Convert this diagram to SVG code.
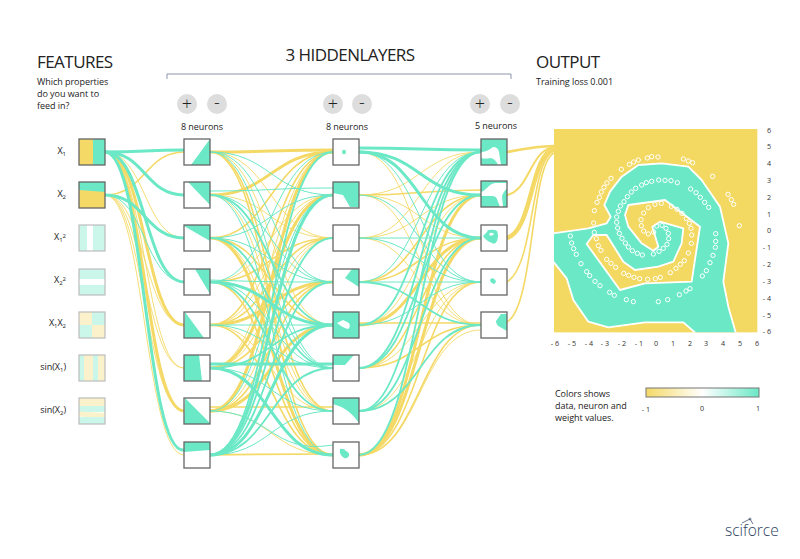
<svg xmlns="http://www.w3.org/2000/svg" width="800" height="559" viewBox="0 0 800 559">
<style>
text{font-family:"Open Sans","Noto Sans","Liberation Sans",sans-serif;fill:#222}
.h{font-size:17px;letter-spacing:-.55px}
.s{font-size:9px;letter-spacing:-.05px}
.a{font-size:7.2px;fill:#333}
.r{text-anchor:end}
.m{text-anchor:middle}
.sub{font-size:6px}
.pm{font-size:18px;font-weight:300;text-anchor:middle}
#connectors path{fill:none}
.y1{stroke:#f4d966;stroke-width:.9}
.y2{stroke:#f4d966;stroke-width:1.6}
.y3{stroke:#f4d966;stroke-width:3}
.g1{stroke:#6be8c6;stroke-width:1}
.g2{stroke:#6be8c6;stroke-width:1.8}
.g3{stroke:#6be8c6;stroke-width:3}
.box{fill:none;stroke:#666;stroke-width:1.3}
.bg{fill:#fff}
.t{fill:#6be8c6}
.w{fill:#fff}
.ft{fill:#f4d966}
.pt{fill:#cbf6ea}
.py{fill:#fbf2cb}
.fb{fill:none;stroke:#bdbdbd;stroke-width:1.2}
.btn{fill:#dddddd}
</style>
<defs>
<linearGradient id="legend"><stop offset="0" stop-color="#f4d966"/><stop offset=".5" stop-color="#fff"/><stop offset="1" stop-color="#6be8c6"/></linearGradient>
<clipPath id="plot"><rect x="27" y="27" width="610" height="610"/></clipPath>
</defs>
<rect width="800" height="559" fill="#fff"/>

<text class="h" x="37" y="68">FEATURES</text>
<text class="s" x="37" y="85">Which properties</text>
<text class="s" x="37" y="97">do you want to</text>
<text class="s" x="37" y="109">feed in?</text>
<text class="h m" x="350" y="61">3 HIDDENLAYERS</text>
<path d="M167 79V74H511V79" fill="none" stroke="#8a94a8" stroke-width="1"/>
<text class="h" x="536" y="68">OUTPUT</text>
<text class="s" x="536" y="85">Training loss 0.001</text>

<g id="buttons">
<circle class="btn" cx="187" cy="104" r="10"/><circle class="btn" cx="217" cy="104" r="10"/>
<circle class="btn" cx="333" cy="104" r="10"/><circle class="btn" cx="362" cy="104" r="10"/>
<circle class="btn" cx="480" cy="104" r="10"/><circle class="btn" cx="510" cy="104" r="10"/>
<text class="pm" x="187" y="110">+</text><text class="pm" x="217" y="109">-</text>
<text class="pm" x="333" y="110">+</text><text class="pm" x="362" y="109">-</text>
<text class="pm" x="480" y="110">+</text><text class="pm" x="510" y="109">-</text>
</g>
<text class="s m" x="202" y="129.500">8 neurons</text>
<text class="s m" x="347" y="129.500">8 neurons</text>
<text class="s m" x="496" y="129">5 neurons</text>

<g id="connectors">
<path class="y1" d="M105 152C145 152 145 238 184 238"/>
<path class="y3" d="M105 152C145 152 145 325 184 325"/>
<path class="y1" d="M105 152C145 152 145 368 184 368"/>
<path class="y3" d="M105 152C145 152 145 411 184 411"/>
<path class="y2" d="M105 195C145 195 145 152 184 152"/>
<path class="y1" d="M105 195C145 195 145 325 184 325"/>
<path class="y1" d="M105 195C145 195 145 368 184 368"/>
<path class="y1" d="M105 195C145 195 145 411 184 411"/>
<path class="y1" d="M105 195C145 195 145 455 184 455"/>
<path class="g3" d="M105 152C145 152 145 150 184 150"/>
<path class="g3" d="M105 152C145 152 145 195 184 195"/>
<path class="g3" d="M105 152C145 152 145 282 184 282"/>
<path class="g3" d="M105 152C145 152 145 455 184 450"/>
<path class="g3" d="M105 195C145 195 145 238 184 238"/>
<path class="g1" d="M105 195C145 195 145 282 184 282"/>

<path class="y3" d="M210 152C271 152 271 150 333 150"/>
<path class="y1" d="M210 152C271 152 271 238 333 238"/>
<path class="y1" d="M210 152C271 152 271 325 333 325"/>
<path class="y2" d="M210 152C271 152 271 411 333 411"/>
<path class="y2" d="M210 152C271 152 271 455 333 455"/>
<path class="y3" d="M210 195C271 195 271 152 333 152"/>
<path class="y1" d="M210 195C271 195 271 238 333 238"/>
<path class="y1" d="M210 195C271 195 271 411 333 411"/>
<path class="y2" d="M210 238C271 238 271 152 333 152"/>
<path class="y2" d="M210 238C271 238 271 325 333 325"/>
<path class="y1" d="M210 238C271 238 271 411 333 411"/>
<path class="y3" d="M210 238C271 238 271 455 333 455"/>
<path class="y1" d="M210 282C271 282 271 195 333 195"/>
<path class="y2" d="M210 282C271 282 271 238 333 238"/>
<path class="y2" d="M210 282C271 282 271 455 333 455"/>
<path class="y2" d="M210 325C271 325 271 152 333 152"/>
<path class="y1" d="M210 325C271 325 271 195 333 195"/>
<path class="y2" d="M210 325C271 325 271 238 333 238"/>
<path class="y3" d="M210 325C271 325 271 282 333 282"/>
<path class="y1" d="M210 325C271 325 271 411 333 411"/>
<path class="y2" d="M210 325C271 325 271 455 333 455"/>
<path class="y1" d="M210 368C271 368 271 152 333 152"/>
<path class="y3" d="M210 368C271 368 271 195 333 195"/>
<path class="y1" d="M210 368C271 368 271 238 333 238"/>
<path class="y2" d="M210 368C271 368 271 282 333 282"/>
<path class="y3" d="M210 411C271 411 271 152 333 152"/>
<path class="y1" d="M210 411C271 411 271 238 333 238"/>
<path class="y2" d="M210 411C271 411 271 282 333 282"/>
<path class="y3" d="M210 411C271 411 271 325 333 325"/>
<path class="y2" d="M210 407C271 407 271 407 333 407"/>
<path class="y1" d="M210 411C271 411 271 455 333 455"/>
<path class="y2" d="M210 455C271 454 271 454 333 454"/>

<path class="g1" d="M210 152C271 152 271 195 333 195"/>
<path class="g1" d="M210 152C271 152 271 282 333 282"/>
<path class="g1" d="M210 152C271 152 271 368 333 368"/>
<path class="g1" d="M210 191C271 191 271 188 333 188"/>
<path class="g1" d="M210 195C271 195 271 282 333 282"/>
<path class="g2" d="M210 195C271 195 271 325 333 325"/>
<path class="g1" d="M210 195C271 195 271 368 333 368"/>
<path class="g1" d="M210 195C271 195 271 455 333 455"/>
<path class="g1" d="M210 238C271 238 271 195 333 195"/>
<path class="g1" d="M210 238C271 238 271 282 333 282"/>
<path class="g2" d="M210 238C271 238 271 368 333 368"/>
<path class="g1" d="M210 282C271 282 271 152 333 152"/>
<path class="g1" d="M210 280C271 282 271 282 333 282"/>
<path class="g3" d="M210 282C271 282 271 325 333 325"/>
<path class="g1" d="M210 282C271 282 271 368 333 368"/>
<path class="g2" d="M210 282C271 282 271 411 333 411"/>
<path class="g1" d="M210 325C271 325 271 325 333 325"/>
<path class="g1" d="M210 325C271 325 271 368 333 368"/>
<path class="g2" d="M210 368C271 368 271 325 333 325"/>
<path class="g3" d="M210 364C271 364 271 364 333 364"/>
<path class="g1" d="M210 368C271 368 271 411 333 411"/>
<path class="g3" d="M210 368C271 368 271 455 333 455"/>
<path class="g1" d="M210 411C271 411 271 195 333 195"/>
<path class="g1" d="M210 411C271 411 271 455 333 445"/>
<path class="g2" d="M210 455C271 455 271 152 333 152"/>
<path class="g3" d="M210 455C271 455 271 195 333 195"/>
<path class="g2" d="M210 455C271 455 271 238 333 238"/>
<path class="g2" d="M210 455C271 455 271 282 333 282"/>
<path class="g3" d="M210 455C271 455 271 325 333 325"/>
<path class="g2" d="M210 455C271 455 271 368 333 368"/>
<path class="g1" d="M210 455C271 455 271 411 333 411"/>

<path class="y1" d="M359 152C420 152 420 325 481 325"/>
<path class="y1" d="M359 195C420 195 420 152 481 152"/>
<path class="y2" d="M359 195C420 195 420 190 481 190"/>
<path class="y1" d="M359 195C420 195 420 238 481 238"/>
<path class="y1" d="M359 195C420 195 420 325 481 325"/>
<path class="y1" d="M359 238C420 238 420 152 481 152"/>
<path class="y1" d="M359 238C420 238 420 195 481 195"/>
<path class="y1" d="M359 238C420 238 420 325 481 325"/>
<path class="y2" d="M359 282C420 282 420 195 481 195"/>
<path class="y2" d="M359 282C420 282 420 238 481 238"/>
<path class="y3" d="M359 325C420 325 420 238 481 238"/>
<path class="y1" d="M359 325C420 325 420 195 481 195"/>
<path class="y2" d="M359 323C420 323 420 323 481 323"/>
<path class="y2" d="M359 368C420 368 420 238 481 238"/>
<path class="y1" d="M359 368C420 368 420 282 481 282"/>
<path class="y2" d="M359 368C420 368 420 325 481 325"/>
<path class="y1" d="M359 411C420 411 420 282 481 282"/>
<path class="y1" d="M359 411C420 411 420 325 481 325"/>
<path class="y3" d="M359 455C420 455 420 195 481 195"/>
<path class="y3" d="M359 455C420 455 420 238 481 238"/>
<path class="y2" d="M359 455C420 455 420 282 481 282"/>
<path class="y2" d="M359 455C420 455 420 325 481 325"/>
<path class="y1" d="M359 455C420 455 420 330 481 330"/>

<path class="g3" d="M359 148C420 148 420 150 481 150"/>
<path class="g3" d="M359 152C420 152 420 195 481 195"/>
<path class="g3" d="M359 152C420 152 420 238 481 238"/>
<path class="g1" d="M359 152C420 152 420 282 481 282"/>
<path class="g1" d="M359 195C420 195 420 282 481 282"/>
<path class="g1" d="M359 238C420 238 420 238 481 238"/>
<path class="g1" d="M359 238C420 238 420 282 481 282"/>
<path class="g1" d="M359 282C420 282 420 152 481 152"/>
<path class="g1" d="M359 282C420 282 420 282 481 282"/>
<path class="g2" d="M359 282C420 282 420 325 481 325"/>
<path class="g2" d="M359 325C420 325 420 152 481 152"/>
<path class="g1" d="M359 325C420 325 420 282 481 282"/>
<path class="g2" d="M359 368C420 368 420 152 481 152"/>
<path class="g2" d="M359 368C420 368 420 195 481 195"/>
<path class="g2" d="M359 411C420 411 420 152 481 152"/>
<path class="g2" d="M359 411C420 411 420 238 481 238"/>
<path class="g2" d="M359 411C420 411 420 325 481 325"/>
<path class="g2" d="M359 455C420 455 420 152 481 152"/>

<path class="y2" style="stroke-width:2.600" d="M507 152C530 148 530 147 554 146"/>
<path class="y2" style="stroke-width:2" d="M507 195C530 190 530 150 554 147"/>
<path class="y3" style="stroke-width:4.500" d="M507 238C533 230 530 155 554 149"/>
<path class="y2" d="M507 282C535 265 530 160 554 151"/>
<path class="y2" d="M507 322C535 305 530 165 554 153"/>
</g>

<g id="feature-x1"><text class="s r" x="66" y="154">X<tspan class="sub" dy="2">1</tspan></text><rect class="ft" x="79" y="139" width="14" height="26"/><rect class="t" x="93" y="139" width="12" height="26"/><rect class="box" x="79" y="139" width="26" height="26"/></g>
<g id="feature-x2"><text class="s r" x="66" y="197">X<tspan class="sub" dy="2">2</tspan></text><rect class="ft" x="79" y="182" width="26" height="26"/><path class="t" d="M79 182H105V192L79 190Z"/><rect class="box" x="79" y="182" width="26" height="26"/></g>
<g id="feature-x1sq"><text class="s r" x="66" y="240">X<tspan class="sub" dy="2">1</tspan><tspan class="sub" dy="-4">2</tspan></text><rect class="pt" x="79" y="225" width="26" height="26"/><rect class="w" x="87" y="225" width="6" height="26"/><rect class="fb" x="79" y="225" width="26" height="26"/></g>
<g id="feature-x2sq"><text class="s r" x="66" y="283">X<tspan class="sub" dy="2">2</tspan><tspan class="sub" dy="-4">2</tspan></text><rect class="pt" x="79" y="269" width="26" height="26"/><rect class="w" x="79" y="279" width="26" height="6"/><rect class="fb" x="79" y="269" width="26" height="26"/></g>
<g id="feature-x1x2"><text class="s r" x="66" y="326">X<tspan class="sub" dy="2">1</tspan><tspan dy="-2">X</tspan><tspan class="sub" dy="2">2</tspan></text><rect class="py" x="79" y="312" width="13" height="13"/><rect class="pt" x="92" y="312" width="13" height="13"/><rect class="pt" x="79" y="325" width="13" height="13"/><rect class="py" x="92" y="325" width="13" height="13"/><rect class="fb" x="79" y="312" width="26" height="26"/></g>
<g id="feature-sinx1"><text class="s r" x="66" y="370">sin(X<tspan class="sub" dy="2">1</tspan><tspan dy="-2">)</tspan></text><rect class="pt" x="79" y="355" width="5" height="26"/><rect class="py" x="84" y="355" width="9" height="26"/><rect class="pt" x="93" y="355" width="5" height="26"/><rect class="py" x="98" y="355" width="7" height="26"/><rect class="fb" x="79" y="355" width="26" height="26"/></g>
<g id="feature-sinx2"><text class="s r" x="66" y="413">sin(X<tspan class="sub" dy="2">2</tspan><tspan dy="-2">)</tspan></text><rect class="py" x="79" y="398" width="26" height="8"/><rect class="pt" x="79" y="406" width="26" height="6"/><path class="py" d="M79 411.500L105 413V418L79 416.500Z"/><rect class="pt" x="79" y="417" width="26" height="7"/><rect class="fb" x="79" y="398" width="26" height="26"/></g>

<g id="n1-1" transform="translate(184 139)"><rect class="bg" width="26" height="26"/><polygon class="t" points="26,0 26,26 7,26"/><rect class="box" width="26" height="26"/></g>
<g id="n1-2" transform="translate(184 182)"><rect class="bg" width="26" height="26"/><polygon class="t" points="4,0 26,0 26,23"/><rect class="box" width="26" height="26"/></g>
<g id="n1-3" transform="translate(184 225)"><rect class="bg" width="26" height="26"/><polygon class="t" points="0,0 26,0 26,16 0,1"/><rect class="box" width="26" height="26"/></g>
<g id="n1-4" transform="translate(184 269)"><rect class="bg" width="26" height="26"/><polygon class="t" points="11,0 26,0 26,25"/><rect class="box" width="26" height="26"/></g>
<g id="n1-5" transform="translate(184 312)"><rect class="bg" width="26" height="26"/><polygon class="t" points="1,0 20,26 0,26"/><rect class="box" width="26" height="26"/></g>
<g id="n1-6" transform="translate(184 355)"><rect class="bg" width="26" height="26"/><polygon class="t" points="0,0 15,0 18,26 0,26"/><rect class="box" width="26" height="26"/></g>
<g id="n1-7" transform="translate(184 398)"><rect class="bg" width="26" height="26"/><polygon class="t" points="1,0 26,25 26,26 0,26"/><rect class="box" width="26" height="26"/></g>
<g id="n1-8" transform="translate(184 442)"><rect class="bg" width="26" height="26"/><polygon class="t" points="0,0 26,0 26,8 0,10"/><rect class="box" width="26" height="26"/></g>

<g id="n2-1" transform="translate(333 139)"><rect class="bg" width="26" height="26"/><ellipse class="t" cx="11" cy="13" rx="2" ry="2.300"/><rect class="box" width="26" height="26"/></g>
<g id="n2-2" transform="translate(333 182)"><rect class="bg" width="26" height="26"/><polygon class="t" points="0,0 26,0 26,25 17,25 10,13 0,11"/><rect class="box" width="26" height="26"/></g>
<g id="n2-3" transform="translate(333 225)"><rect class="bg" width="26" height="26"/><rect class="box" width="26" height="26"/></g>
<g id="n2-4" transform="translate(333 269)"><rect class="bg" width="26" height="26"/><polygon class="t" points="19,0 26,0 26,18 12,9"/><rect class="box" width="26" height="26"/></g>
<g id="n2-5" transform="translate(333 312)"><rect class="t" width="26" height="26"/><path class="w" d="M10 8L16 11Q18 15 15 17Q10 16 4 11Z"/><rect class="box" width="26" height="26"/></g>
<g id="n2-6" transform="translate(333 355)"><rect class="bg" width="26" height="26"/><polygon class="t" points="0,0 21,0 12,10 0,10"/><rect class="box" width="26" height="26"/></g>
<g id="n2-7" transform="translate(333 398)"><rect class="bg" width="26" height="26"/><path class="t" d="M0 6Q16 10 26 25V0H0Z"/><rect class="box" width="26" height="26"/></g>
<g id="n2-8" transform="translate(333 442)"><rect class="bg" width="26" height="26"/><path class="t" d="M7 7Q11 6 13 9Q17 11 16 14Q14 17 11 16Q6 13 7 7Z"/><rect class="box" width="26" height="26"/></g>

<g id="n3-1" transform="translate(481 139)"><rect class="t" width="26" height="26"/><path class="w" d="M0 13Q6 13 12 8Q17 8 18 13L20 26H17Q14 19 9 19Q4 20 0 19Z"/><rect class="box" width="26" height="26"/></g>
<g id="n3-2" transform="translate(481 181)"><rect class="t" width="26" height="26"/><path class="w" d="M26 2H14Q9 3 6 7Q3 10 0 11V15H11Q15 15 16 18L19 26H22L21 15Q23 10 26 7Z"/><rect class="box" width="26" height="26"/></g>
<g id="n3-3" transform="translate(481 225)"><rect class="bg" width="26" height="26"/><path class="t" d="M2 11L6 7L7 5Q14 4 16 6Q18 10 16 16Q14 20 11 18Q5 16 2 11Z"/><path class="w" d="M8 10Q11 12 13 9Q11 7 9 8Z"/><rect class="box" width="26" height="26"/></g>
<g id="n3-4" transform="translate(481 269)"><rect class="bg" width="26" height="26"/><ellipse class="t" cx="12" cy="12" rx="3" ry="2.300" transform="rotate(40 12 12)"/><rect class="box" width="26" height="26"/></g>
<g id="n3-5" transform="translate(481 312)"><rect class="bg" width="26" height="26"/><path class="t" d="M26 2H20L15 9Q15 13 19 15L26 19Z"/><rect class="box" width="26" height="26"/></g>

<g id="output" transform="translate(545 120) scale(.33333)">
<rect x="27" y="27" width="610" height="610" fill="#f3d862"/>
<g clip-path="url(#plot)">
<path fill="#6be8c6" fill-rule="evenodd" stroke="#fff" stroke-width="5.500" stroke-linejoin="round" d="M5 343L130 325L185 310L197 290L178 255L195 215L230 170L280 135L350 130L430 140L470 180L525 260L550 370L535 485L550 560L577 655H470L415 607H300L190 622L130 605L85 540L65 475L5 400ZM125 372L145 345H185L235 425L270 450L340 440L385 425L410 370L415 325L345 305L322 320L340 380L325 392L290 370L250 320L240 285L250 255L360 240L465 320L440 485L300 490L225 510Z"/>
</g>
<g fill="none" stroke="#fff" stroke-width="3">
<circle cx="229" cy="148" r="6.500"/><circle cx="253" cy="133" r="6.500"/><circle cx="266" cy="126" r="6.500"/><circle cx="280" cy="120" r="6.500"/><circle cx="307" cy="114" r="6.500"/><circle cx="320" cy="110" r="6.500"/><circle cx="339" cy="111" r="6.500"/><circle cx="415" cy="117" r="6.500"/><circle cx="430" cy="123" r="6.500"/><circle cx="443" cy="128" r="6.500"/><circle cx="503" cy="169" r="6.500"/><circle cx="549" cy="223" r="6.500"/><circle cx="559" cy="239" r="6.500"/><circle cx="566" cy="253" r="6.500"/><circle cx="583" cy="317" r="6.500"/>
<circle cx="198" cy="175" r="6.500"/><circle cx="186" cy="189" r="6.500"/><circle cx="177" cy="202" r="6.500"/><circle cx="169" cy="216" r="6.500"/><circle cx="163" cy="232" r="6.500"/><circle cx="156" cy="247" r="6.500"/><circle cx="148" cy="272" r="6.500"/><circle cx="146" cy="309" r="6.500"/><circle cx="148" cy="337" r="6.500"/><circle cx="154" cy="356" r="6.500"/><circle cx="160" cy="377" r="6.500"/><circle cx="168" cy="391" r="6.500"/><circle cx="185" cy="418" r="6.500"/><circle cx="198" cy="430" r="6.500"/><circle cx="212" cy="442" r="6.500"/><circle cx="236" cy="460" r="6.500"/><circle cx="251" cy="466" r="6.500"/><circle cx="267" cy="472" r="6.500"/><circle cx="284" cy="476" r="6.500"/><circle cx="308" cy="478" r="6.500"/><circle cx="331" cy="476" r="6.500"/><circle cx="346" cy="472" r="6.500"/><circle cx="376" cy="458" r="6.500"/><circle cx="393" cy="445" r="6.500"/><circle cx="406" cy="433" r="6.500"/><circle cx="418" cy="422" r="6.500"/><circle cx="430" cy="399" r="6.500"/><circle cx="439" cy="370" r="6.500"/><circle cx="440" cy="345" r="6.500"/><circle cx="438" cy="325" r="6.500"/><circle cx="433" cy="310" r="6.500"/><circle cx="424" cy="296" r="6.500"/><circle cx="411" cy="280" r="6.500"/><circle cx="396" cy="268" r="6.500"/><circle cx="379" cy="259" r="6.500"/><circle cx="349" cy="250" r="6.500"/><circle cx="330" cy="253" r="6.500"/><circle cx="310" cy="263" r="6.500"/><circle cx="296" cy="279" r="6.500"/><circle cx="288" cy="299" r="6.500"/><circle cx="289" cy="317" r="6.500"/><circle cx="296" cy="333" r="6.500"/><circle cx="310" cy="342" r="6.500"/><circle cx="326" cy="336" r="6.500"/>
<circle cx="335" cy="318" r="6.500"/><circle cx="351" cy="316" r="6.500"/><circle cx="363" cy="325" r="6.500"/><circle cx="370" cy="340" r="6.500"/><circle cx="371" cy="356" r="6.500"/><circle cx="366" cy="373" r="6.500"/><circle cx="355" cy="385" r="6.500"/><circle cx="342" cy="394" r="6.500"/><circle cx="325" cy="402" r="6.500"/><circle cx="292" cy="405" r="6.500"/><circle cx="277" cy="400" r="6.500"/><circle cx="262" cy="392" r="6.500"/><circle cx="250" cy="381" r="6.500"/><circle cx="241" cy="369" r="6.500"/><circle cx="231" cy="355" r="6.500"/><circle cx="223" cy="340" r="6.500"/><circle cx="218" cy="324" r="6.500"/><circle cx="215" cy="307" r="6.500"/><circle cx="215" cy="291" r="6.500"/><circle cx="220" cy="274" r="6.500"/><circle cx="226" cy="258" r="6.500"/><circle cx="237" cy="245" r="6.500"/><circle cx="247" cy="230" r="6.500"/><circle cx="259" cy="216" r="6.500"/><circle cx="272" cy="205" r="6.500"/><circle cx="290" cy="195" r="6.500"/><circle cx="304" cy="188" r="6.500"/><circle cx="320" cy="184" r="6.500"/><circle cx="341" cy="180" r="6.500"/><circle cx="360" cy="181" r="6.500"/><circle cx="378" cy="182" r="6.500"/><circle cx="397" cy="188" r="6.500"/><circle cx="437" cy="207" r="6.500"/><circle cx="453" cy="218" r="6.500"/><circle cx="466" cy="232" r="6.500"/><circle cx="479" cy="247" r="6.500"/><circle cx="491" cy="262" r="6.500"/><circle cx="512" cy="341" r="6.500"/><circle cx="512" cy="364" r="6.500"/><circle cx="511" cy="382" r="6.500"/><circle cx="504" cy="406" r="6.500"/><circle cx="495" cy="428" r="6.500"/><circle cx="484" cy="452" r="6.500"/><circle cx="472" cy="468" r="6.500"/>
<circle cx="435" cy="506" r="6.500"/><circle cx="423" cy="513" r="6.500"/><circle cx="403" cy="524" r="6.500"/><circle cx="368" cy="539" r="6.500"/><circle cx="340" cy="545" r="6.500"/><circle cx="265" cy="545" r="6.500"/><circle cx="244" cy="539" r="6.500"/><circle cx="208" cy="526" r="6.500"/><circle cx="194" cy="517" r="6.500"/><circle cx="165" cy="497" r="6.500"/><circle cx="150" cy="484" r="6.500"/><circle cx="134" cy="467" r="6.500"/><circle cx="125" cy="455" r="6.500"/><circle cx="108" cy="431" r="6.500"/><circle cx="94" cy="403" r="6.500"/><circle cx="86" cy="386" r="6.500"/><circle cx="80" cy="369" r="6.500"/><circle cx="76" cy="348" r="6.500"/>
</g>
</g>

<g id="axis-y">
<text class="a" x="771" y="133" text-anchor="end">6</text><text class="a" x="771" y="149" text-anchor="end">5</text><text class="a" x="771" y="166" text-anchor="end">4</text><text class="a" x="771" y="183" text-anchor="end">3</text><text class="a" x="771" y="200" text-anchor="end">2</text><text class="a" x="771" y="217" text-anchor="end">1</text><text class="a" x="771" y="233" text-anchor="end">0</text><text class="a" x="771" y="250" text-anchor="end">- 1</text><text class="a" x="771" y="267" text-anchor="end">- 2</text><text class="a" x="771" y="284" text-anchor="end">- 3</text><text class="a" x="771" y="301" text-anchor="end">- 4</text><text class="a" x="771" y="318" text-anchor="end">- 5</text><text class="a" x="771" y="334" text-anchor="end">- 6</text>
</g>
<g id="axis-x" text-anchor="middle">
<text class="a" x="555" y="346">- 6</text><text class="a" x="572" y="346">- 5</text><text class="a" x="589" y="346">- 4</text><text class="a" x="605" y="346">- 3</text><text class="a" x="622" y="346">- 2</text><text class="a" x="639" y="346">- 1</text><text class="a" x="656" y="346">0</text><text class="a" x="673" y="346">1</text><text class="a" x="690" y="346">2</text><text class="a" x="706" y="346">3</text><text class="a" x="723" y="346">4</text><text class="a" x="740" y="346">5</text><text class="a" x="757" y="346">6</text>
</g>

<g id="legend-block">
<text class="s" x="555" y="397">Colors shows</text>
<text class="s" x="555" y="409">data, neuron and</text>
<text class="s" x="555" y="421">weight values.</text>
<rect x="646" y="388" width="113" height="9" fill="url(#legend)" stroke="#777" stroke-width="1"/>
<text class="a m" x="646" y="412">- 1</text><text class="a m" x="702" y="411">0</text><text class="a m" x="758" y="411">1</text>
</g>

<g id="logo">
<path d="M742 523L750 519L753 524" fill="none" stroke="#2d3f5e" stroke-width=".7"/>
<circle cx="750" cy="519" r="1" fill="none" stroke="#2d3f5e" stroke-width=".6"/>
<text x="725" y="535.500" font-size="15.500" style="fill:#2d3f5e;font-family:'Open Sans',sans-serif;font-weight:300">sciforce</text>
</g>
</svg>
